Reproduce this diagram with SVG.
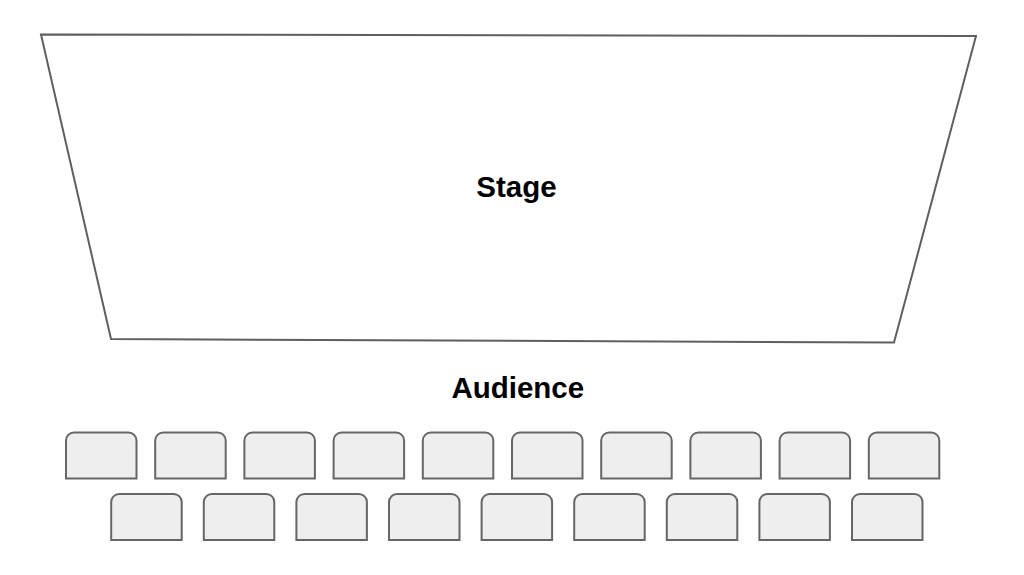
<svg xmlns="http://www.w3.org/2000/svg" xmlns:xlink="http://www.w3.org/1999/xlink" width="1024" height="575" viewBox="0 0 1024 575">
<style>
.stage{fill:#ffffff;stroke:#5f5f5f;stroke-width:2;stroke-linejoin:miter}
.seat{fill:#eeeeee;stroke:#666666;stroke-width:2}
.lbl{font-family:"Liberation Sans",Arial,sans-serif;font-weight:bold;font-size:29.5px;fill:#000;text-anchor:middle}
</style>
<defs>
<path id="seatShape" class="seat" d="M0,46 V8 A8,8 0 0 1 8,0 H62.5 A8,8 0 0 1 70.5,8 V46 Z"/>
</defs>
<rect width="1024" height="575" fill="#ffffff"/>
<g id="stage">
<polygon class="stage" points="41,34.5 976,36 894,342.5 111,339"/>
<text class="lbl" x="516.5" y="196.5">Stage</text>
</g>
<g id="audience-label">
<text class="lbl" x="517.8" y="398">Audience</text>
</g>
<g id="connectors"></g>
<g id="row1">
<g id="seat-1-1"><use xlink:href="#seatShape" href="#seatShape" transform="translate(66,432.5)"/></g>
<g id="seat-1-2"><use href="#seatShape" transform="translate(155.2,432.5)"/></g>
<g id="seat-1-3"><use href="#seatShape" transform="translate(244.4,432.5)"/></g>
<g id="seat-1-4"><use href="#seatShape" transform="translate(333.6,432.5)"/></g>
<g id="seat-1-5"><use href="#seatShape" transform="translate(422.8,432.5)"/></g>
<g id="seat-1-6"><use href="#seatShape" transform="translate(512,432.5)"/></g>
<g id="seat-1-7"><use href="#seatShape" transform="translate(601.2,432.5)"/></g>
<g id="seat-1-8"><use href="#seatShape" transform="translate(690.4,432.5)"/></g>
<g id="seat-1-9"><use href="#seatShape" transform="translate(779.6,432.5)"/></g>
<g id="seat-1-10"><use href="#seatShape" transform="translate(868.8,432.5)"/></g>
</g>
<g id="row2">
<g id="seat-2-1"><use href="#seatShape" transform="translate(111.2,494)"/></g>
<g id="seat-2-2"><use href="#seatShape" transform="translate(203.8,494)"/></g>
<g id="seat-2-3"><use href="#seatShape" transform="translate(296.4,494)"/></g>
<g id="seat-2-4"><use href="#seatShape" transform="translate(389,494)"/></g>
<g id="seat-2-5"><use href="#seatShape" transform="translate(481.6,494)"/></g>
<g id="seat-2-6"><use href="#seatShape" transform="translate(574.2,494)"/></g>
<g id="seat-2-7"><use href="#seatShape" transform="translate(666.8,494)"/></g>
<g id="seat-2-8"><use href="#seatShape" transform="translate(759.4,494)"/></g>
<g id="seat-2-9"><use href="#seatShape" transform="translate(852,494)"/></g>
</g>
</svg>
